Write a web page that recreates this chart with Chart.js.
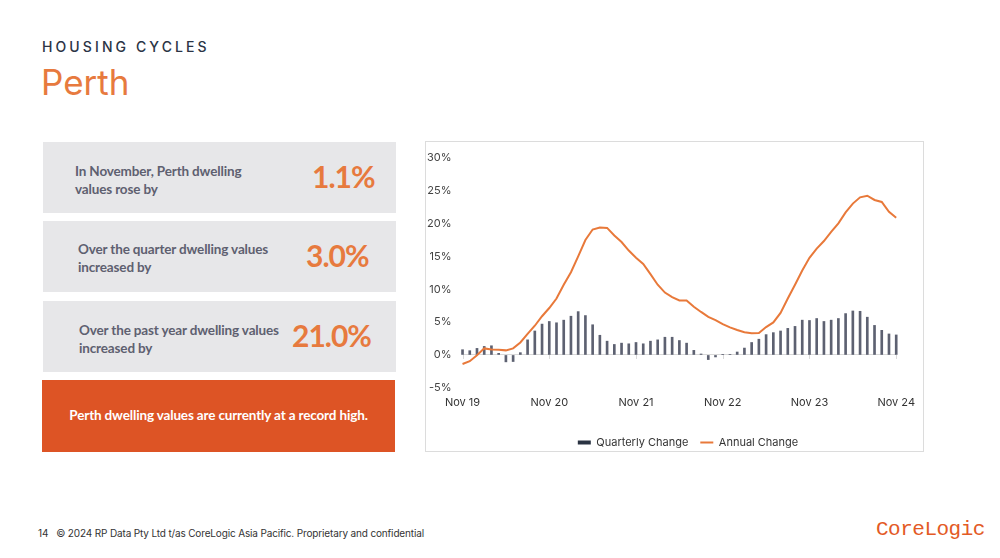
<!DOCTYPE html>
<html>
<head>
<meta charset="utf-8">
<script src="https://cdn.jsdelivr.net/npm/chart.js@4"></script>
<style>
  body { margin: 0; width: 1000px; height: 558px; background: #fff; position: relative; overflow: hidden; font-family: "Lato", sans-serif; }
  .kicker { position: absolute; left: 42px; top: 38px; font: 500 14px "Inter", sans-serif; letter-spacing: 3.1px; color: #2b3445; }
  .title { position: absolute; left: 41px; top: 61px; font: 400 35px "Inter", sans-serif; color: #e77a3e; }
  .box { position: absolute; left: 43px; width: 353px; height: 71px; background: #e7e7e9; }
  .box .txt { position: absolute; font: 700 13.5px "Lato", sans-serif; letter-spacing: -0.15px; line-height: 18px; color: #5e6070; }
  .box .big { position: absolute; font: 700 30px "Lato", sans-serif; color: #e77a3e; letter-spacing: -1px; }
  .hl { position: absolute; left: 42px; top: 380px; width: 353px; height: 72px; background: #dd5425; color: #fff; font: 700 13.5px "Lato", sans-serif; letter-spacing: -0.15px; text-align: center; line-height: 70px; }
  .chartbox { position: absolute; left: 425px; top: 141px; width: 497px; height: 309px; border: 1px solid #dcdcdc; }
  .foot { position: absolute; left: 38px; top: 527px; font: 400 10px "Inter", sans-serif; color: #333; letter-spacing: -0.15px; }
  .logo { position: absolute; left: 876px; top: 518px; font: 400 21px "Liberation Mono", monospace; color: #e35a25; letter-spacing: -0.5px; }
</style>
</head>
<body>
<div class="kicker">HOUSING CYCLES</div>
<div class="title">Perth</div>

<div class="box" style="top:142px"><div class="txt" style="left:32px;top:20px">In November, Perth dwelling<br>values rose by</div><div class="big" style="left:269px;top:16px">1.1%</div></div>
<div class="box" style="top:221px"><div class="txt" style="left:35px;top:19px">Over the quarter dwelling values<br>increased by</div><div class="big" style="left:263px;top:16px">3.0%</div></div>
<div class="box" style="top:301px"><div class="txt" style="left:36px;top:20px">Over the past year dwelling values<br>increased by</div><div class="big" style="left:249px;top:16px">21.0%</div></div>
<div class="hl">Perth dwelling values are currently at a record high.</div>

<div class="chartbox"><canvas id="c" width="497" height="309"></canvas></div>

<div class="foot">14&nbsp;&nbsp;&nbsp;© 2024 RP Data Pty Ltd t/as CoreLogic Asia Pacific. Proprietary and confidential</div>
<div class="logo">CoreLogic</div>

<script>
const monthNames = ["Jan","Feb","Mar","Apr","May","Jun","Jul","Aug","Sep","Oct","Nov","Dec"];
const yearTicks = ["Nov 19", "Nov 20", "Nov 21", "Nov 22", "Nov 23", "Nov 24"];

// Nov 2019 .. Nov 2024, monthly
const labels = [];
for (let i = 0; i < 61; i++) {
  const m = (10 + i) % 12;
  const y = 19 + Math.floor((10 + i) / 12);
  labels.push(monthNames[m] + " " + y);
}

const quarterlyChange = [
  0.8, 0.65, 1.0, 1.3, 1.4, 0.25, -1.05, -1.0, 0.35, 2.3,
  3.65, 4.7, 5.1, 4.9, 5.3, 5.9, 6.6, 6.0, 4.6, 3.0,
  2.1, 1.6, 1.8, 1.7, 1.9, 1.7, 2.1, 2.3, 2.7, 2.7,
  2.2, 1.8, 0.7, 0.15, -0.7, -0.3, 0.05, 0.1, 0.45, 1.05,
  1.9, 2.4, 3.1, 3.4, 3.65, 4.05, 4.35, 5.3, 5.25, 5.55,
  5.1, 5.3, 5.55, 6.3, 6.7, 6.65, 5.75, 4.5, 3.75, 3.2,
  3.05
];

const annualChange = [
  -1.37, -0.95, -0.05, 1.0, 0.85, 0.8, 0.7, 1.0, 1.9, 3.2,
  4.45, 5.9, 7.15, 8.6, 10.7, 12.6, 15.0, 17.5, 19.1, 19.4,
  19.35, 18.2, 17.2, 15.9, 14.8, 13.85, 12.3, 10.7, 9.5, 8.8,
  8.3, 8.3, 7.35, 6.55, 5.8, 5.3, 4.7, 4.2, 3.8, 3.45,
  3.3, 3.35, 4.25, 4.95, 6.4, 8.6, 10.7, 12.85, 14.8, 16.2,
  17.35, 18.75, 20.05, 21.7, 23.05, 24.0, 24.25, 23.6, 23.3, 21.8,
  20.9
];

const navy = "#2a3342";
const barGrey = "#5d6171";
const orange = "#e8793a";

// small year tick marks under the zero line
const yearMarks = {
  id: "yearMarks",
  afterDatasetsDraw(chart) {
    const { ctx, scales } = chart;
    const y0 = scales.y.getPixelForValue(0);
    ctx.save();
    ctx.strokeStyle = "#d9d9d9";
    ctx.lineWidth = 1;
    labels.forEach((_, i) => {
      if (i % 12 !== 0) return;
      const x = Math.round(scales.x.getPixelForValue(i)) + 0.5;
      ctx.beginPath();
      ctx.moveTo(x, y0);
      ctx.lineTo(x, y0 + 4);
      ctx.stroke();
    });
    ctx.restore();
  }
};

// nudge the legend right so it sits under the middle of the box
const legendShift = {
  id: "legendShift",
  afterLayout(chart) {
    if (!chart.legend) return;
    chart.legend.left += 31;
    chart.legend.right += 31;
  }
};

new Chart(document.getElementById("c"), {
  type: "bar",
  data: {
    labels,
    datasets: [
      {
        type: "bar",
        label: "Quarterly Change",
        data: quarterlyChange,
        backgroundColor: barGrey,
        barThickness: 2,
        clip: false,
        order: 1
      },
      {
        type: "line",
        label: "Annual Change",
        data: annualChange,
        borderColor: orange,
        borderWidth: 2,
        pointRadius: 0,
        tension: 0,
        fill: false,
        order: 0
      }
    ]
  },
  options: {
    responsive: false,
    animation: false,
    layout: { padding: { top: -2, left: -10, right: 25, bottom: -7 } },
    plugins: {
      tooltip: { enabled: false },
      legend: {
        position: "bottom",
        labels: {
          color: "#333",
          font: { family: "Inter", size: 11 },
          usePointStyle: true,
          pointStyleWidth: 13,
          boxWidth: 13,
          boxHeight: 6,
          padding: 12,
          generateLabels(chart) {
            return chart.data.datasets.map((ds, i) => ({
              text: ds.label,
              datasetIndex: i,
              pointStyle: "line",
              strokeStyle: i === 0 ? navy : orange,
              fillStyle: i === 0 ? navy : orange,
              lineWidth: i === 0 ? 4 : 2,
              fontColor: "#333"
            }));
          }
        }
      }
    },
    scales: {
      x: {
        offset: false,
        afterFit: (scale) => { scale.height += 8; },
        grid: { display: false, drawTicks: false },
        border: { display: false },
        ticks: {
          autoSkip: false,
          maxRotation: 0,
          padding: 8,
          color: "#333",
          font: { family: "Inter", size: 11 },
          callback: (v, i) => (i % 12 === 0 ? yearTicks[i / 12] : null)
        }
      },
      y: {
        min: -5,
        max: 30,
        grid: {
          drawTicks: false,
          color: (c) => (c.tick && c.tick.value === 0 ? "#d9d9d9" : "rgba(0,0,0,0)")
        },
        border: { display: false },
        ticks: {
          stepSize: 5,
          padding: 11,
          color: "#444",
          font: { family: "Inter", size: 11, lineHeight: 0.9 },
          callback: (v) => v + "%"
        }
      }
    }
  },
  plugins: [yearMarks, legendShift]
});
</script>
</body>
</html>
